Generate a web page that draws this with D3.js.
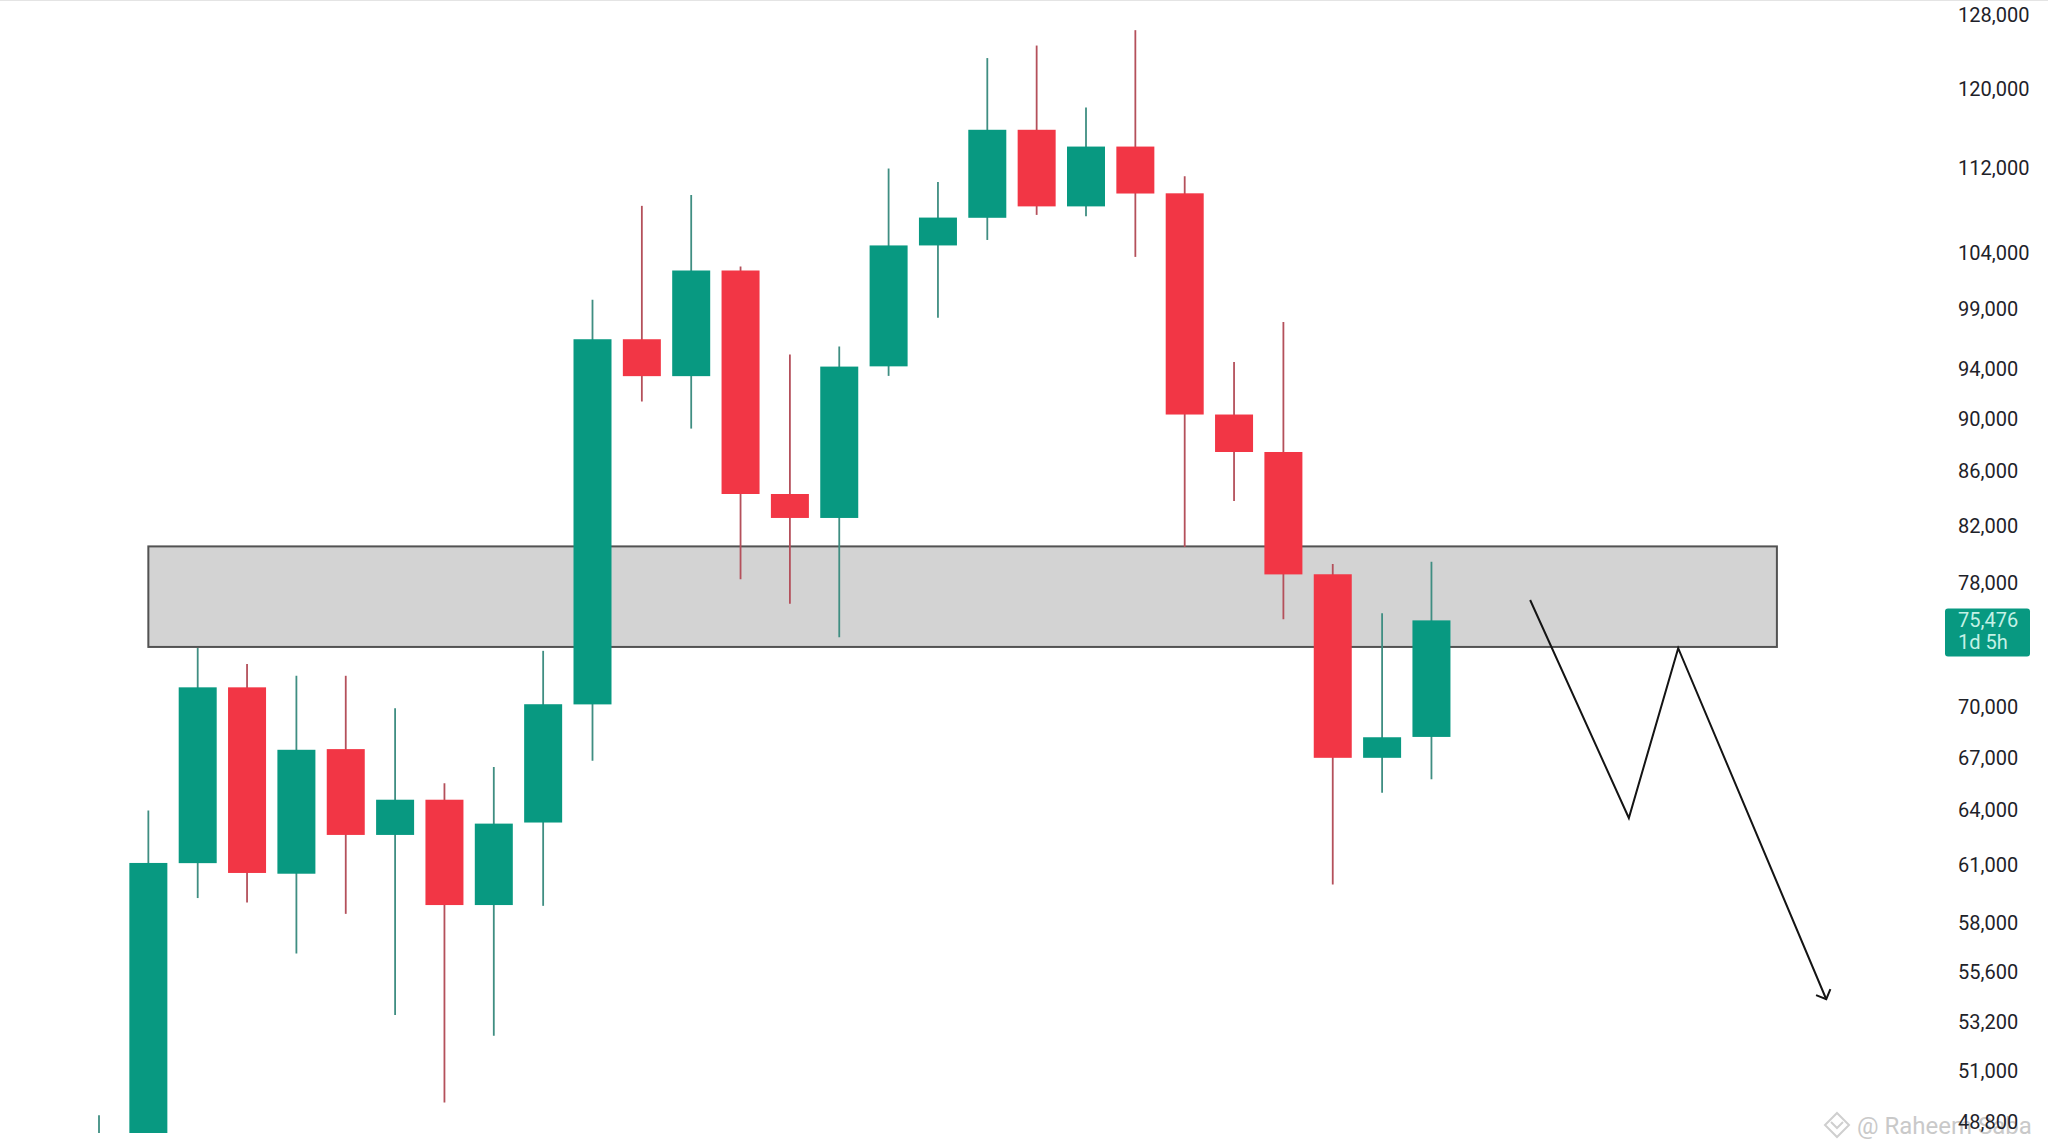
<!DOCTYPE html>
<html>
<head>
<meta charset="utf-8">
<script src="https://cdn.jsdelivr.net/npm/d3@7"></script>
<style>
  html, body { margin: 0; padding: 0; background: #ffffff; }
  svg { display: block; }
</style>
</head>
<body>
<svg id="chart" width="2048" height="1144"></svg>
<script>
// ---- data ----
const candleIndex = [0,1,2,3,4,5,6,7,8,9,10,11,12,13,14,15,16,17,18,19,20,21,22,23,24,25,26,27];
const opens  = [46500, 46800, 61090, 71200, 60530, 67470, 62610, 64560, 58900, 63290, 70150, 96420, 93370, 102370, 84260, 82520, 94170, 104630, 107180, 115720, 108250, 114040, 109490, 90300, 87400, 78570, 66960, 68190];
const highs  = [49050, 63960, 73680, 72660, 71920, 71920, 69920, 65490, 66420, 73500, 99800, 108300, 109330, 102720, 95150, 95820, 111880, 110580, 123180, 124530, 117990, 126210, 111120, 94530, 97880, 79270, 75950, 79430];
const lows   = [45800, 46000, 59260, 59030, 56470, 58450, 53520, 49590, 52560, 58860, 66790, 91330, 89200, 78230, 76570, 74380, 93390, 98250, 105130, 107450, 107320, 103590, 80460, 83740, 75550, 59970, 64960, 65720];
const closes = [47500, 61100, 71200, 60570, 67430, 62610, 64560, 58900, 63230, 70160, 96420, 93370, 102370, 84260, 82520, 94150, 104630, 107200, 115720, 108250, 114040, 109470, 90300, 87400, 78560, 66960, 68170, 75476];

const tickValues = [128000, 120000, 112000, 104000, 99000, 94000, 90000, 86000, 82000, 78000, 70000, 67000, 64000, 61000, 58000, 55600, 53200, 51000, 48800];
const lastPrice = 75476;
const lastPriceLabel = "75,476";
const countdownLabel = "1d 5h";

const zoneLow = 73750, zoneHigh = 80500, zoneStart = 1, zoneEnd = 34;
const projIndex = [29, 31, 32, 35];
const projPrice = [76830, 63540, 73670, 54260];

const watermarkText = "@ Raheem Saba";

// ---- layout ----
const W = 2048, H = 1144;
const plotBottom = 1133;
const GREEN = "#089981", RED = "#f23645";
const GREEN_WICK = "#3f8e82", RED_WICK = "#b4505b";

const svg = d3.select("#chart");
svg.append("rect").attr("width", W).attr("height", H).attr("fill", "#ffffff");
svg.append("line").attr("x1", 0).attr("x2", W).attr("y1", 0.5).attr("y2", 0.5)
   .attr("stroke", "#e4e4e4").attr("stroke-width", 1);

const x = d3.scaleLinear().domain([0, 35]).range([99, 99 + 49.35 * 35]);
const y = d3.scaleLog().domain([48800, 128000]).range([1121, 14]);
const step = x(1) - x(0);
const bodyW = step * 0.77;

svg.append("defs").append("clipPath").attr("id", "plotClip")
  .append("rect").attr("x", 0).attr("y", 0).attr("width", 1940).attr("height", plotBottom);

const plot = svg.append("g").attr("clip-path", "url(#plotClip)");

// zone
plot.append("rect")
  .attr("x", x(zoneStart)).attr("y", y(zoneHigh))
  .attr("width", x(zoneEnd) - x(zoneStart)).attr("height", y(zoneLow) - y(zoneHigh))
  .attr("fill", "#d3d3d3").attr("stroke", "#525252").attr("stroke-width", 2);

// candles
const candles = candleIndex.map((i, k) => ({ i, o: opens[k], h: highs[k], l: lows[k], c: closes[k] }));
const cg = plot.append("g");
cg.selectAll("line.wick").data(candles).join("line")
  .attr("class", "wick")
  .attr("x1", d => x(d.i)).attr("x2", d => x(d.i))
  .attr("y1", d => y(d.h)).attr("y2", d => y(d.l))
  .attr("stroke", d => d.c >= d.o ? GREEN_WICK : RED_WICK)
  .attr("stroke-width", 1.8);
cg.selectAll("rect.body").data(candles).join("rect")
  .attr("class", "body")
  .attr("x", d => x(d.i) - bodyW / 2)
  .attr("width", bodyW)
  .attr("y", d => y(Math.max(d.o, d.c)))
  .attr("height", d => Math.max(1, Math.abs(y(d.o) - y(d.c))))
  .attr("fill", d => d.c >= d.o ? GREEN : RED);

// projection path
const pts = projIndex.map((i, k) => [x(i), y(projPrice[k])]);
plot.append("path")
  .attr("d", d3.line()(pts))
  .attr("fill", "none").attr("stroke", "#141414").attr("stroke-width", 2)
  .attr("stroke-linejoin", "miter");
{
  const [x3, y3] = pts[pts.length - 2], [x4, y4] = pts[pts.length - 1];
  const len = Math.hypot(x4 - x3, y4 - y3);
  const ux = (x3 - x4) / len, uy = (y3 - y4) / len;
  const a = Math.PI / 4, L = 11;
  const arm = s => [x4 + L * (ux * Math.cos(s * a) - uy * Math.sin(s * a)),
                    y4 + L * (ux * Math.sin(s * a) + uy * Math.cos(s * a))];
  plot.append("path")
    .attr("d", d3.line()([arm(1), [x4, y4], arm(-1)]))
    .attr("fill", "none").attr("stroke", "#141414").attr("stroke-width", 2);
}

// watermark
const wm = svg.append("g").attr("fill", "none").attr("stroke", "#cfcfcf").attr("stroke-width", 2);
wm.append("path").attr("d", "M1837,1113 L1849,1125 L1837,1137 L1825,1125 Z");
wm.append("path").attr("d", "M1831,1122 L1837,1128 L1843,1122");
svg.append("text")
  .attr("x", 1857).attr("y", 1134)
  .attr("font-family", "Roboto, 'Noto Sans', sans-serif")
  .attr("font-size", 24).attr("fill", "#c9c9c9")
  .text(watermarkText);

// y axis labels
const axis = d3.axisRight(y).tickValues(tickValues).tickSize(0).tickPadding(0)
  .tickFormat(d3.format(","));
const ag = svg.append("g").attr("transform", "translate(1958,0)").call(axis);
ag.select(".domain").remove();
ag.selectAll("text")
  .attr("font-family", "Roboto, 'Noto Sans', sans-serif")
  .attr("font-size", 20).attr("fill", "#1e2229")
  .attr("x", 0).attr("dy", "0.35em").attr("text-anchor", "start");

// last price label
const ly = y(lastPrice);
svg.append("rect")
  .attr("x", 1945).attr("y", ly - 12).attr("width", 85).attr("height", 48)
  .attr("rx", 3).attr("fill", GREEN);
svg.append("text")
  .attr("x", 1958).attr("y", ly).attr("dy", "0.35em")
  .attr("font-family", "Roboto, 'Noto Sans', sans-serif")
  .attr("font-size", 20).attr("fill", "#c4f1e6")
  .text(lastPriceLabel);
svg.append("text")
  .attr("x", 1958).attr("y", ly + 22).attr("dy", "0.35em")
  .attr("font-family", "Roboto, 'Noto Sans', sans-serif")
  .attr("font-size", 20).attr("fill", "#c4f1e6")
  .text(countdownLabel);
</script>
</body>
</html>
